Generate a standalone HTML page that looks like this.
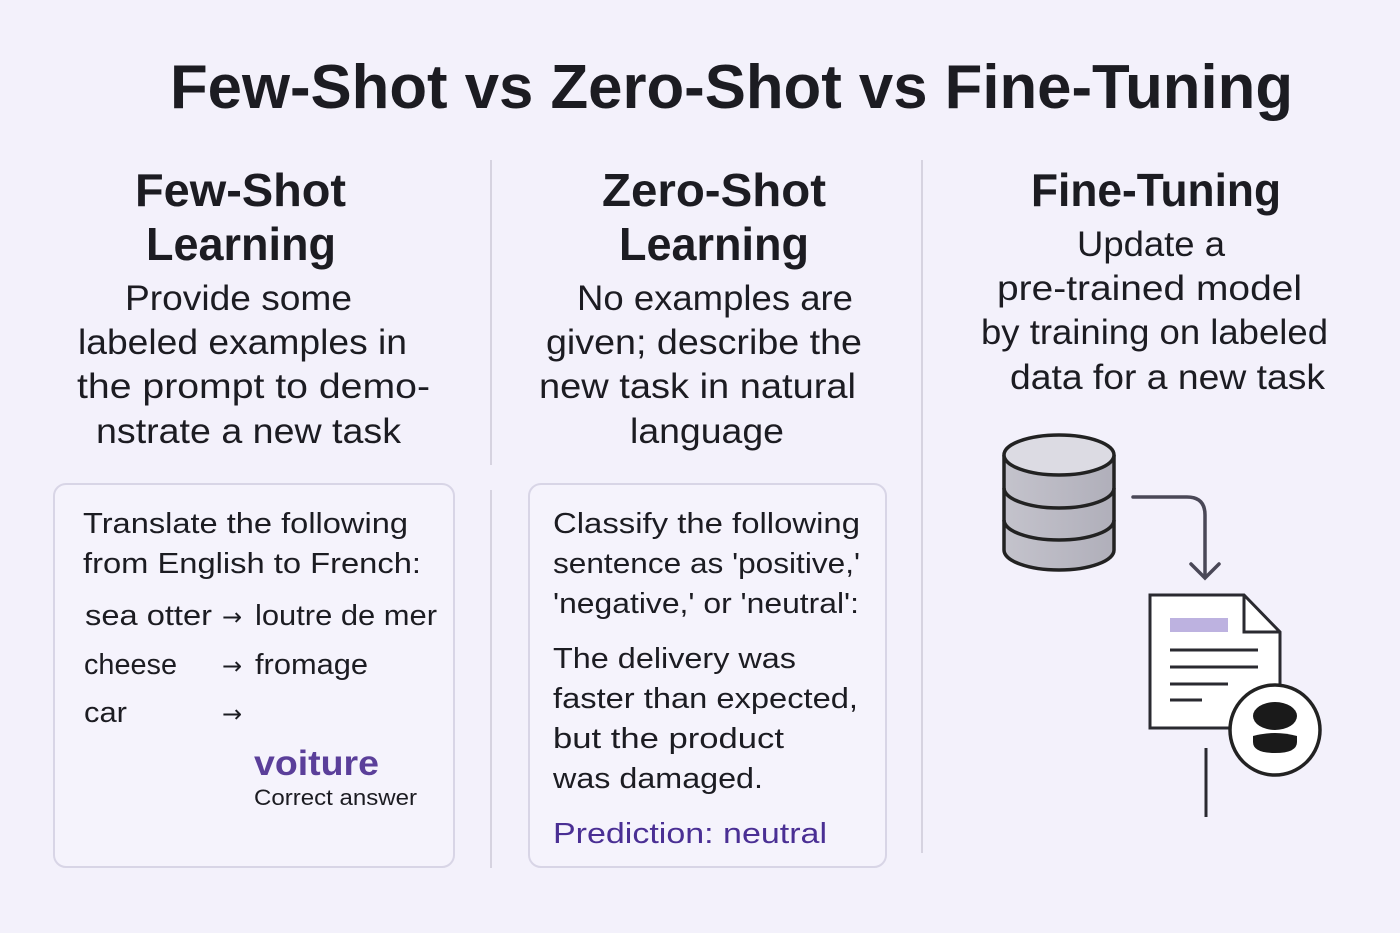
<!DOCTYPE html>
<html><head><meta charset="utf-8"><style>
html,body{margin:0;padding:0;background:#f3f1fb;}
svg{display:block}
text{font-family:"Liberation Sans",sans-serif;fill:#1c1c22}
.h{font-weight:bold;font-size:46px}
.b{font-size:35px}
.s{font-size:29px}
</style></head><body>
<svg width="1400" height="933" viewBox="0 0 1400 933" xmlns="http://www.w3.org/2000/svg">
<rect width="1400" height="933" fill="#f3f1fb"/>
<text x="170" y="108" style="font-weight:bold;font-size:62px" textLength="1123" lengthAdjust="spacingAndGlyphs">Few-Shot vs Zero-Shot vs Fine-Tuning</text>

<g stroke="#d6d3e0" stroke-width="2">
<line x1="491" y1="160" x2="491" y2="465"/>
<line x1="491" y1="490" x2="491" y2="868"/>
<line x1="922" y1="160" x2="922" y2="853"/>
</g>

<!-- col1 -->
<text class="h" x="135" y="206" textLength="211" lengthAdjust="spacingAndGlyphs">Few-Shot</text>
<text class="h" x="146" y="260" textLength="190" lengthAdjust="spacingAndGlyphs">Learning</text>
<text class="b" x="125" y="310" textLength="227" lengthAdjust="spacingAndGlyphs">Provide some</text>
<text class="b" x="78" y="354" textLength="329" lengthAdjust="spacingAndGlyphs">labeled examples in</text>
<text class="b" x="77" y="398" textLength="353" lengthAdjust="spacingAndGlyphs">the prompt to demo-</text>
<text class="b" x="96" y="443" textLength="305" lengthAdjust="spacingAndGlyphs">nstrate a new task</text>

<!-- col2 -->
<text class="h" x="602" y="206" textLength="224" lengthAdjust="spacingAndGlyphs">Zero-Shot</text>
<text class="h" x="619" y="260" textLength="190" lengthAdjust="spacingAndGlyphs">Learning</text>
<text class="b" x="577" y="310" textLength="276" lengthAdjust="spacingAndGlyphs">No examples are</text>
<text class="b" x="546" y="354" textLength="316" lengthAdjust="spacingAndGlyphs">given; describe the</text>
<text class="b" x="539" y="398" textLength="317" lengthAdjust="spacingAndGlyphs">new task in natural</text>
<text class="b" x="630" y="443" textLength="154" lengthAdjust="spacingAndGlyphs">language</text>

<!-- col3 -->
<text class="h" x="1031" y="206" textLength="250" lengthAdjust="spacingAndGlyphs">Fine-Tuning</text>
<text class="b" x="1077" y="256" textLength="148" lengthAdjust="spacingAndGlyphs">Update a</text>
<text class="b" x="997" y="300" textLength="305" lengthAdjust="spacingAndGlyphs">pre-trained model</text>
<text class="b" x="981" y="344" textLength="347" lengthAdjust="spacingAndGlyphs">by training on labeled</text>
<text class="b" x="1010" y="389" textLength="315" lengthAdjust="spacingAndGlyphs">data for a new task</text>

<!-- boxes -->
<rect x="54" y="484" width="400" height="383" rx="12" fill="#f5f3fc" stroke="#d8d5e6" stroke-width="2"/>
<rect x="529" y="484" width="357" height="383" rx="12" fill="#f5f3fc" stroke="#d8d5e6" stroke-width="2"/>

<text class="s" x="83" y="533" textLength="325" lengthAdjust="spacingAndGlyphs">Translate the following</text>
<text class="s" x="83" y="573" textLength="338" lengthAdjust="spacingAndGlyphs">from English to French:</text>
<text class="s" x="85" y="625" textLength="127" lengthAdjust="spacingAndGlyphs">sea otter</text>
<text class="s" x="222" y="625" style="font-family:'DejaVu Sans',sans-serif;font-size:24px">→</text>
<text class="s" x="255" y="625" textLength="182" lengthAdjust="spacingAndGlyphs">loutre de mer</text>
<text class="s" x="84" y="674" textLength="93" lengthAdjust="spacingAndGlyphs">cheese</text>
<text class="s" x="222" y="674" style="font-family:'DejaVu Sans',sans-serif;font-size:24px">→</text>
<text class="s" x="255" y="674" textLength="113" lengthAdjust="spacingAndGlyphs">fromage</text>
<text class="s" x="84" y="722" textLength="43" lengthAdjust="spacingAndGlyphs">car</text>
<text class="s" x="222" y="722" style="font-family:'DejaVu Sans',sans-serif;font-size:24px">→</text>
<text x="254" y="775" style="font-weight:bold;font-size:35px;fill:#5b3f9a" textLength="125" lengthAdjust="spacingAndGlyphs">voiture</text>
<text x="254" y="805" style="font-size:22px" textLength="163" lengthAdjust="spacingAndGlyphs">Correct answer</text>

<text class="s" x="553" y="533" textLength="307" lengthAdjust="spacingAndGlyphs">Classify the following</text>
<text class="s" x="553" y="573" textLength="307" lengthAdjust="spacingAndGlyphs">sentence as 'positive,'</text>
<text class="s" x="553" y="613" textLength="306" lengthAdjust="spacingAndGlyphs">'negative,' or 'neutral':</text>
<text class="s" x="553" y="668" textLength="243" lengthAdjust="spacingAndGlyphs">The delivery was</text>
<text class="s" x="553" y="708" textLength="305" lengthAdjust="spacingAndGlyphs">faster than expected,</text>
<text class="s" x="553" y="748" textLength="231" lengthAdjust="spacingAndGlyphs">but the product</text>
<text class="s" x="553" y="788" textLength="210" lengthAdjust="spacingAndGlyphs">was damaged.</text>
<text class="s" x="553" y="843" style="fill:#4a2f94" textLength="274" lengthAdjust="spacingAndGlyphs">Prediction: neutral</text>

<!-- database -->
<defs><linearGradient id="g" x1="0" y1="0" x2="1" y2="0"><stop offset="0" stop-color="#c4c3cc"/><stop offset="1" stop-color="#b0afba"/></linearGradient></defs>
<g stroke="#222" stroke-width="3.5" fill="url(#g)">
<path d="M1004 455 L1004 550 A55 20 0 0 0 1114 550 L1114 455"/>
<path d="M1004 488 A55 20 0 0 0 1114 488" fill="none"/>
<path d="M1004 520 A55 20 0 0 0 1114 520" fill="none"/>
<ellipse cx="1059" cy="455" rx="55" ry="20" fill="#dcdbe3"/>
</g>
<!-- arrow -->
<g stroke="#4a4857" stroke-width="3.5" fill="none" stroke-linecap="round">
<path d="M1133 497 L1187 497 Q1205 497 1205 515 L1205 576"/>
<path d="M1191 564 L1205 578 L1219 564"/>
</g>
<!-- document -->
<path d="M1150 595 L1244 595 L1280 632 L1280 728 L1150 728 Z" fill="#fff" stroke="#2a2a30" stroke-width="3"/>
<path d="M1244 595 L1244 632 L1280 632" fill="none" stroke="#2a2a30" stroke-width="3"/>
<rect x="1170" y="618" width="58" height="14" fill="#bdb2e0"/>
<g stroke="#2a2a30" stroke-width="3">
<line x1="1170" y1="650" x2="1258" y2="650"/>
<line x1="1170" y1="667" x2="1258" y2="667"/>
<line x1="1170" y1="684" x2="1228" y2="684"/>
<line x1="1170" y1="700" x2="1202" y2="700"/>
<line x1="1206" y1="748" x2="1206" y2="817"/>
</g>
<circle cx="1275" cy="730" r="45" fill="#fff" stroke="#222" stroke-width="3.5"/>
<ellipse cx="1275" cy="716" rx="22" ry="14" fill="#1a1a1a"/>
<path d="M1253 736 Q1275 730 1297 736 L1297 742 Q1297 753 1275 753 Q1253 753 1253 742 Z" fill="#1a1a1a"/>
</svg>
</body></html>
